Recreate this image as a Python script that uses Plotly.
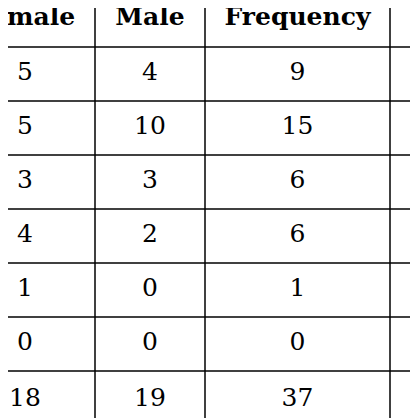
import plotly.graph_objects as go

headers = ["Female", "Male", "Frequency", "N"]
female = [5, 5, 3, 4, 1, 0, 18]
male = [4, 10, 3, 2, 0, 0, 19]
frequency = [9, 15, 6, 6, 1, 0, 37]

# cell grid in pixel units of the cropped view (page adds ~8px offset)
col_edges = [-53, 87, 197, 382, 532]
row_edges = [-18, 39, 93, 147, 201, 255, 309, 363, 420]

col_mid = [(a + b) / 2 for a, b in zip(col_edges[:-1], col_edges[1:])]
row_mid = [(a + b) / 2 for a, b in zip(row_edges[:-1], row_edges[1:])]

fig = go.Figure()
font = dict(family="DejaVu Serif", size=25, color="black")

# header row
fig.add_trace(go.Scatter(
    x=col_mid[:3] + [col_edges[3] + 32], y=[row_mid[0]] * 4, mode="text",
    text=["<b>%s</b>" % h for h in headers], textfont=font, hoverinfo="skip"))

for ci, col in enumerate([female, male, frequency]):
    fig.add_trace(go.Scatter(
        x=[col_mid[ci]] * len(col), y=row_mid[1:], mode="text",
        text=[str(v) for v in col], textfont=font, hoverinfo="skip"))

shapes = []
for x in col_edges:
    shapes.append(dict(type="line", x0=x, x1=x, y0=row_edges[0], y1=row_edges[-1],
                       line=dict(color="black", width=1.5)))
for y in row_edges:
    shapes.append(dict(type="line", x0=col_edges[0], x1=col_edges[-1], y0=y, y1=y,
                       line=dict(color="black", width=1.5)))

fig.update_layout(
    width=418, height=418, margin=dict(l=0, r=0, t=0, b=0),
    plot_bgcolor="white", paper_bgcolor="white", showlegend=False, shapes=shapes,
    xaxis=dict(range=[0, 418], visible=False, fixedrange=True),
    yaxis=dict(range=[418, 0], visible=False, fixedrange=True),
)

fig.write_html("out.html")
